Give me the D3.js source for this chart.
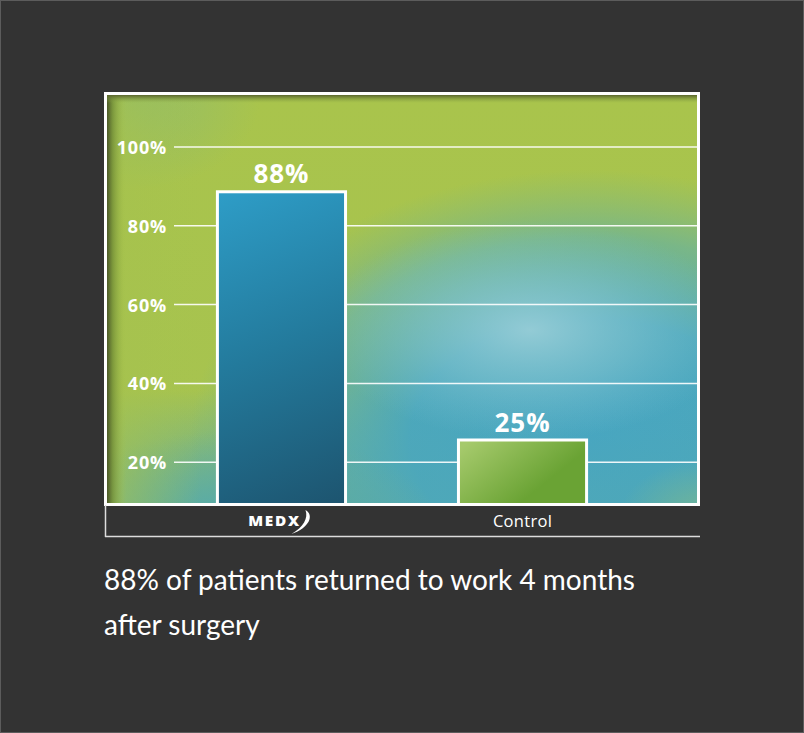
<!DOCTYPE html>
<html>
<head>
<meta charset="utf-8">
<script src="https://cdn.jsdelivr.net/npm/d3@7"></script>
<style>
html,body{margin:0;padding:0;background:#333;}
svg{display:block;}
</style>
</head>
<body>
<svg id="chart" width="804" height="733"></svg>
<script>
const categories = ["MEDX", "Control"];
const values = [88, 25];
const valueLabels = ["88%", "25%"];
const tickValues = [20, 40, 60, 80, 100];
const captionLines = ["88% of patients returned to work 4 months", "after surgery"];

const W = 804, H = 733;
const plot = {left: 107, right: 698, top: 95, bottom: 503};
const svg = d3.select("#chart");
const defs = svg.append("defs");

svg.append("rect").attr("x",0.5).attr("y",0.5).attr("width",W-1).attr("height",H-1)
  .attr("fill","#333333").attr("stroke","#5c5c5c").attr("stroke-width",1);

function lin(id, x1,y1,x2,y2, stops){
  const g = defs.append("linearGradient").attr("id",id)
    .attr("gradientUnits","userSpaceOnUse").attr("x1",x1).attr("y1",y1).attr("x2",x2).attr("y2",y2);
  stops.forEach(s=>g.append("stop").attr("offset",s[0]).attr("stop-color",s[1]).attr("stop-opacity",s[2]===undefined?1:s[2]));
}
function rad(id, cx,cy,rx,ry, stops){
  const g = defs.append("radialGradient").attr("id",id)
    .attr("gradientUnits","userSpaceOnUse").attr("cx",cx).attr("cy",cy).attr("r",rx)
    .attr("gradientTransform",`translate(${cx},${cy}) scale(1,${ry/rx}) translate(${-cx},${-cy})`);
  stops.forEach(s=>g.append("stop").attr("offset",s[0]).attr("stop-color",s[1]).attr("stop-opacity",s[2]===undefined?1:s[2]));
}
lin("base", 0,95,0,503, [[0,"#a9c44c"],[1,"#a6c350"]]);
rad("blueBR", 590, 440, 400, 270, [[0,"#46a5c3",1],[0.45,"#47a6c2",0.95],[0.75,"#5aaeae",0.6],[1,"#6ab39a",0]]);
lin("blueBottom", 0,390,0,503, [[0,"#4ea8b8",0],[1,"#4ea8b8",0.75]]);
rad("tealBL", 240, 530, 200, 100, [[0,"#4ea8b4",0.95],[0.5,"#5fad9e",0.6],[1,"#6aae95",0]]);
rad("lightSpot", 530, 330, 210, 110, [[0,"#9bcfd8",0.9],[0.5,"#8ac8d2",0.5],[1,"#7cc2d0",0]]);
rad("tealTL", 130, 100, 130, 90, [[0,"#86b87a",0.6],[1,"#86b87a",0]]);
rad("greenBR", 710, 515, 90, 55, [[0,"#7ab890",0.85],[1,"#7ab890",0]]);
lin("leftVig", 107,0,126,0, [[0,"#4a5628",1],[0.3,"#6f8a35",0.75],[1,"#a8c44c",0]]);
lin("leftGreen", 107,0,200,0, [[0,"#a5c24e",0.7],[1,"#a5c24e",0]]);
lin("topVig", 0,95,0,103, [[0,"#5a652e",1],[1,"#8aa845",0]]);
lin("bar1", 218,192,346,500, [[0,"#2e9dc7"],[0.5,"#237a9c"],[1,"#1d5570"]]);
lin("bar2", 470,440,520,503, [[0,"#a6ca6c"],[1,"#6aa334"]]);

const clip = defs.append("clipPath").attr("id","plotClip");
clip.append("rect").attr("x",plot.left).attr("y",plot.top)
  .attr("width",plot.right-plot.left).attr("height",plot.bottom-plot.top);

const bg = svg.append("g").attr("clip-path","url(#plotClip)");
["base","blueBR","blueBottom","tealBL","lightSpot","tealTL","greenBR","leftGreen","leftVig","topVig"].forEach(id=>{
  bg.append("rect").attr("x",plot.left).attr("y",plot.top)
    .attr("width",plot.right-plot.left).attr("height",plot.bottom-plot.top)
    .attr("fill",`url(#${id})`);
});

const x = d3.scaleBand().domain(categories).range([106, 698]).paddingInner(0.456).paddingOuter(0.456);
const y = d3.scaleLinear().domain([0, 100]).range([541, 147]);

svg.append("g").selectAll("line").data(tickValues).join("line")
  .attr("x1",174).attr("x2",plot.right)
  .attr("y1",d=>y(d)).attr("y2",d=>y(d))
  .attr("stroke","#ffffff").attr("stroke-opacity",0.9).attr("stroke-width",1.5);

const yAxis = d3.axisLeft(y).tickValues(tickValues).tickFormat(d=>d+"%").tickSize(0).tickPadding(0);
const ya = svg.append("g").attr("transform","translate(167,0)").call(yAxis);
ya.select(".domain").remove();
ya.selectAll("text").attr("fill","#ffffff").attr("font-family","'Open Sans', sans-serif")
  .attr("font-weight","700").attr("font-size","18px").attr("letter-spacing","0.8px").attr("dy","0.36em");

const barFills = ["url(#bar1)","url(#bar2)"];
svg.append("g").attr("clip-path","url(#plotClip)").selectAll("rect").data(values).join("rect")
  .attr("x",(d,i)=>x(categories[i])+1.5)
  .attr("y",d=>y(d)-2.5)
  .attr("width",x.bandwidth()-3)
  .attr("height",d=>plot.bottom - y(d) + 6)
  .attr("fill",(d,i)=>barFills[i])
  .attr("stroke","#ffffff").attr("stroke-width",3);

svg.append("g").selectAll("text").data(values).join("text")
  .attr("x",(d,i)=>x(categories[i])+x.bandwidth()/2)
  .attr("y",d=>y(d)-11)
  .attr("text-anchor","middle")
  .attr("fill","#ffffff").attr("font-family","'Open Sans', sans-serif")
  .attr("font-weight","700").attr("font-size","26px").attr("letter-spacing","1px")
  .text((d,i)=>valueLabels[i]);

svg.append("rect").attr("x",105.5).attr("y",93.5).attr("width",593).attr("height",411)
  .attr("fill","none").attr("stroke","#ffffff").attr("stroke-width",3);

svg.append("line").attr("x1",105.5).attr("x2",105.5).attr("y1",505).attr("y2",537)
  .attr("stroke","#dddddd").attr("stroke-width",1.5);
svg.append("line").attr("x1",105).attr("x2",700).attr("y1",536.5).attr("y2",536.5)
  .attr("stroke","#dddddd").attr("stroke-width",1.5);

const xAxis = d3.axisBottom(x).tickSize(0).tickPadding(0);
const xa = svg.append("g").attr("transform","translate(0,527)").call(xAxis);
xa.select(".domain").remove();
xa.selectAll("text").attr("dy",0).attr("fill","#ffffff")
  .attr("font-family","'Open Sans', sans-serif").attr("font-size","16.5px").attr("letter-spacing","0.3px")
  .each(function(d){
    if(d==="MEDX"){
      d3.select(this).attr("font-weight","800").attr("font-size","14px")
        .attr("letter-spacing","1.5px")
        .attr("transform","translate(-7,-1) scale(1.1,1)");
    }
  });
const cx = x("MEDX") + x.bandwidth()/2;
svg.append("path")
  .attr("d",`M${cx+24},${510} C${cx+33},${515} ${cx+28},${528} ${cx+10},${534} C${cx+22},${527} ${cx+27},${518} ${cx+24},${510} Z`)
  .attr("fill","#ffffff");

svg.append("g").selectAll("text").data(captionLines).join("text")
  .attr("x",104).attr("y",(d,i)=>590+i*45)
  .attr("fill","#ffffff").attr("font-family","Lato, sans-serif").attr("font-size","28px")
  .text(d=>d);
</script>
</body>
</html>
